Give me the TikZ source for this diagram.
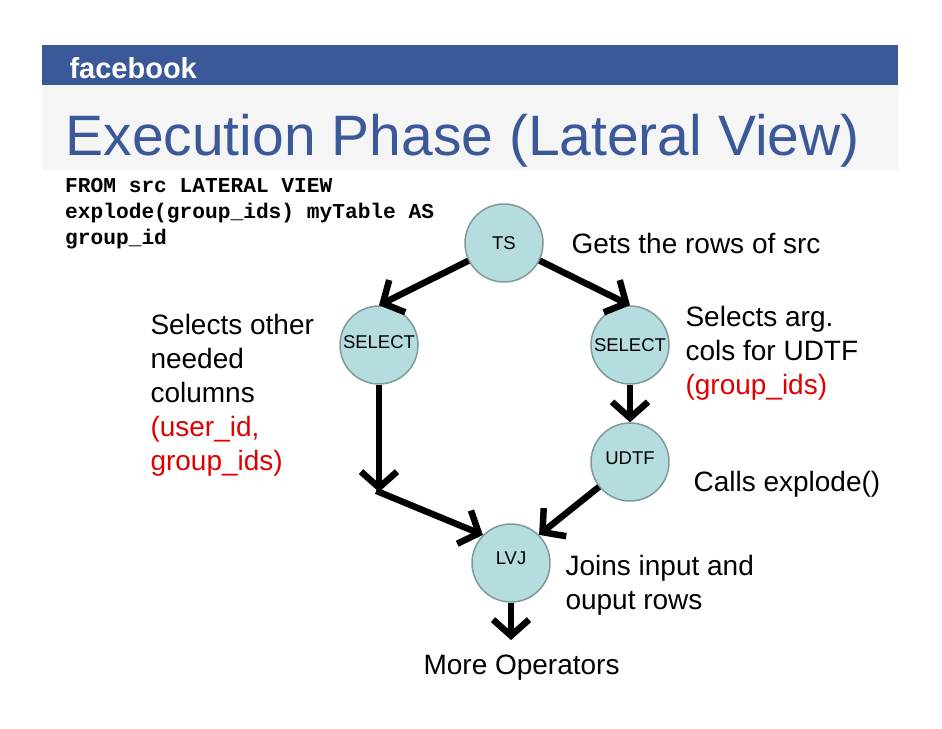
\documentclass[tikz,border=0pt]{standalone}
\usepackage{fontspec}
\setmainfont{Liberation Sans}
\newfontfamily\codefont{Liberation Mono}
\usetikzlibrary{arrows.meta}
\definecolor{fbblue}{HTML}{3B5998}
\definecolor{nodefill}{HTML}{B5DDE0}
\definecolor{nodeline}{HTML}{7E9A9A}
\definecolor{redtxt}{HTML}{E00000}
\begin{document}
\begin{tikzpicture}[x=1pt,y=-1pt,
  op/.style={circle,fill=nodefill,draw=nodeline,line width=1.5pt,minimum size=78pt,inner sep=0pt,font=\fontsize{18.5}{20}\selectfont},
  arr/.style={line width=6.5pt,-{Straight Barb[length=16pt,width=36pt,line width=6.5pt]}},
  lbl/.style={anchor=base west,font=\fontsize{28}{34}\selectfont,align=left},
  lblc/.style={font=\fontsize{28}{34}\selectfont,align=left,anchor=north west}]
\useasboundingbox (0,0) rectangle (942,728);
\fill[white] (0,0) rectangle (942,728);
\fill[fbblue] (42,45) rectangle (898,85);
\fill[black!4] (42,85) rectangle (898,170);
\node[anchor=base west,text=white,font=\fontsize{29}{29}\selectfont\bfseries] (fb) at (66,78) {facebook};
\node[anchor=base west,text=fbblue,font=\fontsize{57}{57}\selectfont] (title) at (62,155) {Execution Phase (Lateral View)};
\node[anchor=north west,align=left,font=\fontsize{21.2}{26}\codefont\bfseries,inner sep=0pt] (code) at (65,178) {FROM src LATERAL VIEW\\explode(group\_ids) myTable AS\\group\_id};
\node[op] (ts) at (504,243) {TS};
\node[op] (sl) at (379,345) {\raisebox{6pt}{SELECT}};
\node[op] (sr) at (630,345) {SELECT};
\node[op] (udtf) at (630,462) {\raisebox{8pt}{UDTF}};
\node[op] (lvj) at (511,563) {\raisebox{10pt}{LVJ}};
\coordinate (bend) at (379,492);
\coordinate (out) at (511,640);
\draw[arr] (ts) -- (sl.north);
\draw[arr] (ts) -- (sr.north);
\draw[arr] (sl) -- (bend);
\draw[arr,shorten <=-3pt] (bend) -- (lvj.north west);
\draw[arr] (sr) -- (udtf);
\draw[arr] (udtf) -- (lvj.north east);
\draw[arr] (lvj) -- (out);
\node[lbl] (t1) at (568,253) {Gets the rows of src};
\node[lblc] (t2) at (147,311) {Selects other\\needed\\columns\\\textcolor{redtxt}{(user\_id,}\\\textcolor{redtxt}{group\_ids)}};
\node[lblc] (t3) at (682,303) {Selects arg.\\cols for UDTF\\\textcolor{redtxt}{(group\_ids)}};
\node[lbl] (t4) at (690,491) {Calls explode()};
\node[lblc] (t5) at (562,552) {Joins input and\\ouput rows};
\node[lbl] (t6) at (420,674) {More Operators};
\end{tikzpicture}
\end{document}
